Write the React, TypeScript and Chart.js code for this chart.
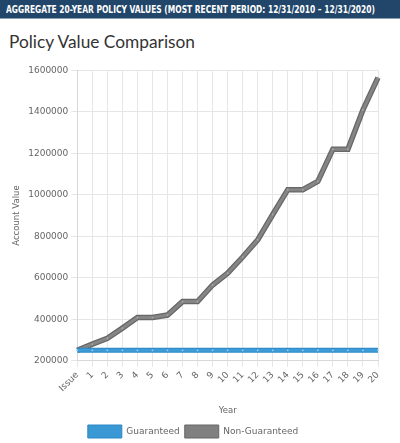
import React, { useEffect, useRef } from "react";
import { Chart, registerables } from "chart.js";

Chart.register(...registerables);

const categories = ["Issue", "1", "2", "3", "4", "5", "6", "7", "8", "9", "10", "11", "12", "13", "14", "15", "16", "17", "18", "19", "20"];
const guaranteed = [250000, 250000, 250000, 250000, 250000, 250000, 250000, 250000, 250000, 250000, 250000, 250000, 250000, 250000, 250000, 250000, 250000, 250000, 250000, 250000, 250000];
const nonGuaranteed = [250000, 280000, 308000, 357000, 408000, 408000, 420000, 485000, 485000, 565000, 622000, 700000, 783000, 905000, 1025000, 1025000, 1065000, 1220000, 1220000, 1410000, 1565000];
const headerText = "AGGREGATE 20-YEAR POLICY VALUES (MOST RECENT PERIOD: 12/31/2010 \u2013 12/31/2020)";
const titleText = "Policy Value Comparison";

const innerColors = ["#3d9bd7", "#858585"];
const dotColors = ["#9fd0ef", "#a8a8a8"];

const twoTonePlugin = {
  id: "twoTone",
  afterDatasetDraw(chart: any, args: any) {
    const meta = args.meta;
    const i = args.index;
    const pts = meta.data;
    if (!pts || pts.length < 2) return;
    const ctx = chart.ctx;
    const area = chart.chartArea;
    ctx.save();
    ctx.beginPath();
    ctx.rect(area.left - 3, area.top - 3, area.right - area.left + 6, area.bottom - area.top + 6);
    ctx.clip();
    ctx.beginPath();
    ctx.moveTo(pts[0].x, pts[0].y);
    for (let k = 1; k < pts.length; k++) ctx.lineTo(pts[k].x, pts[k].y);
    ctx.strokeStyle = innerColors[i];
    ctx.lineWidth = 3;
    ctx.lineJoin = "miter";
    ctx.stroke();
    ctx.fillStyle = dotColors[i];
    for (let k = 0; k < pts.length; k++) {
      ctx.beginPath();
      ctx.arc(pts[k].x, pts[k].y, 0.9, 0, Math.PI * 2);
      ctx.fill();
    }
    ctx.restore();
  },
};

export default function App() {
  const ref = useRef<HTMLCanvasElement | null>(null);
  const headRef = useRef<HTMLSpanElement | null>(null);
  const titleRef = useRef<HTMLSpanElement | null>(null);
  useEffect(() => {
    document.body.style.margin = "0";
    const fit = (el: HTMLSpanElement | null, target: number) => {
      if (!el) return;
      const w = el.getBoundingClientRect().width;
      if (w > 0) el.style.transform = `scaleX(${target / w})`;
    };
    fit(headRef.current, 369);
    fit(titleRef.current, 186);
    if (!ref.current) return;
    Chart.defaults.font.family = "'DejaVu Sans', sans-serif";
    const chart = new Chart(ref.current, {
      type: "line",
      data: {
        labels: categories,
        datasets: [
          {
            label: "Guaranteed",
            data: guaranteed,
            borderColor: "#2c88c6",
            backgroundColor: "#3a98d4",
            borderWidth: 5,
            pointRadius: 0,
            tension: 0,
            fill: false,
          },
          {
            label: "Non-Guaranteed",
            data: nonGuaranteed,
            borderColor: "#676767",
            backgroundColor: "#808080",
            borderWidth: 5.5,
            pointRadius: 0,
            tension: 0,
            fill: false,
          },
        ],
      },
      plugins: [twoTonePlugin],
      options: {
        animation: false,
        responsive: true,
        maintainAspectRatio: false,
        layout: { padding: { left: 8, right: 22, top: 4, bottom: 0 } },
        plugins: {
          legend: {
            position: "bottom",
            labels: {
              boxWidth: 34,
              boxHeight: 13,
              color: "#666",
              font: { size: 9 },
              padding: 5,
              generateLabels: (c: any) => {
                const items = Chart.defaults.plugins.legend.labels.generateLabels(c);
                return items.map((it: any) => ({ ...it, lineWidth: 1 }));
              },
            },
          },
          tooltip: { enabled: false },
        },
        scales: {
          x: {
            offset: false,
            grid: { color: "#e6e6e6", drawTicks: true, tickLength: 6 },
            border: { color: "#d8d8d8" },
            ticks: { color: "#666", font: { size: 9 }, minRotation: 45, maxRotation: 45, autoSkip: false },
            title: { display: true, text: "Year", color: "#666", font: { size: 8.5 }, padding: { top: 9, bottom: 4 } },
          },
          y: {
            min: 200000,
            max: 1600000,
            grid: { color: "#e6e6e6", tickLength: 6 },
            border: { color: "#d8d8d8" },
            ticks: {
              stepSize: 200000,
              color: "#666",
              font: { size: 9 },
              callback: (v: any) => String(v),
            },
            title: { display: true, text: "Account Value", color: "#666", font: { size: 8.5 }, padding: { bottom: 3 } },
          },
        },
      },
    });
    return () => chart.destroy();
  }, []);

  return (
    <div style={{ width: 400, height: 443, background: "#fff", position: "relative", overflow: "hidden" }}>
      <div
        style={{
          height: 18,
          background: "#21466a",
          color: "#fff",
          fontFamily: "'DejaVu Sans Condensed', 'DejaVu Sans', sans-serif",
          fontWeight: "bold",
          fontSize: 10.5,
          lineHeight: "18px",
          paddingLeft: 6,
          whiteSpace: "nowrap",
          borderBottom: "1px solid #8aa0b4",
        }}
      >
        <span ref={headRef} style={{ display: "inline-block", transformOrigin: "0 50%" }}>
          {headerText}
        </span>
      </div>
      <div
        style={{
          position: "absolute",
          top: 31,
          left: 9,
          fontFamily: "Lato, sans-serif",
          fontSize: 17,
          color: "#333",
          whiteSpace: "nowrap",
        }}
      >
        <span ref={titleRef} style={{ display: "inline-block", transformOrigin: "0 50%" }}>
          {titleText}
        </span>
      </div>
      <div style={{ position: "absolute", top: 62, left: 0, width: 400, height: 386 }}>
        <canvas ref={ref} />
      </div>
    </div>
  );
}
